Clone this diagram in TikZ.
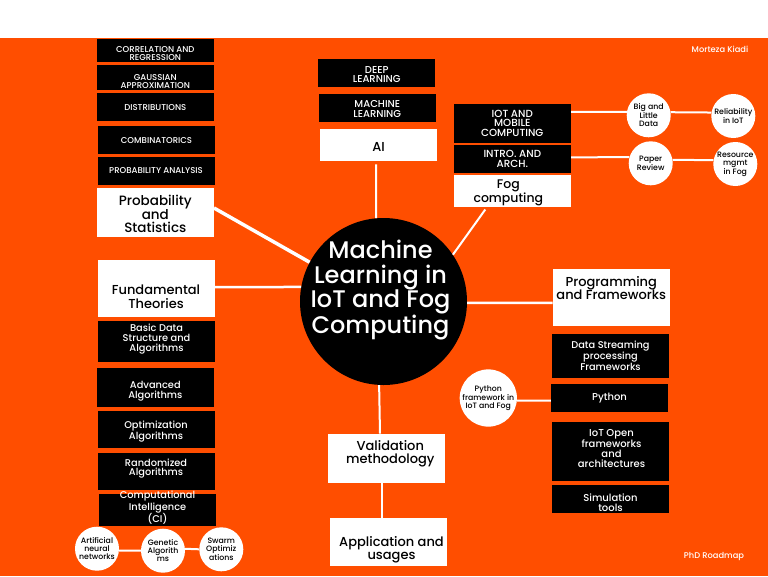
\documentclass[tikz,border=0pt]{standalone}
\usepackage{fontspec}
\setmainfont{Poppins Medium}[BoldFont={Poppins SemiBold}]
\definecolor{roadmap}{HTML}{FF4E00}
\newcommand{\fs}[2]{\fontsize{#1}{#2}\selectfont}
\tikzset{
  boxtext/.style={text=black,align=center,inner sep=0pt},
  darktext/.style={text=white,align=center,inner sep=0pt},
  darkbox/.style={fill=black,inner sep=0pt,minimum width=117,minimum height=28},
  lightbox/.style={fill=white,inner sep=0pt,minimum width=117,minimum height=32},
  bubble/.style={circle,fill=white,text=black,align=center,inner sep=0pt,minimum size=44,font=\fs{7.8}{8}},
  link/.style={draw=white,line width=2pt},
}
\begin{document}
\begin{tikzpicture}[x=1pt,y=-1pt]
            \useasboundingbox (0,0) rectangle (768,576);
            \fill[roadmap] (0,38) rectangle (768,576);

            % centre
            \node[circle,fill=black,inner sep=0pt,minimum size=167,label={[darktext,font=\fs{24}{24.7},xshift=-3,yshift=11.2]center:{Machine\\Learning in\\IoT and Fog\\Computing}}] (hub) at (383.5,301.5) {};

            % probability and statistics
            \node[darkbox,minimum height=23,label={[darktext,font=\fs{8.5}{8},yshift=-3.5]center:{CORRELATION AND\\REGRESSION}}] (corr) at (155.3,50.5) {};
            \node[darkbox,minimum height=25,label={[darktext,font=\fs{8.5}{8},yshift=-3.8]center:{GAUSSIAN\\APPROXIMATION}}] (gauss) at (155.3,77.7) {};
            \node[darkbox,label={[darktext,font=\fs{8.5}{8},yshift=-0.8]center:{DISTRIBUTIONS}}] (dist) at (155.3,107) {};
            \node[darkbox,label={[darktext,font=\fs{8.5}{8},yshift=-0.8]center:{COMBINATORICS}}] (comb) at (156.5,140) {};
            \node[darkbox,label={[darktext,font=\fs{8.5}{8}]center:{PROBABILITY ANALYSIS}}] (panalysis) at (156,170.8) {};
            \node[lightbox,minimum height=49,label={[boxtext,font=\fs{13.5}{13.7},yshift=-1.5]center:{Probability\\and\\Statistics}}] (prob) at (155.3,212.5) {};

            % fundamental theories
            \node[lightbox,minimum height=57,label={[boxtext,font=\fs{13}{14},yshift=-8.7]center:{Fundamental\\Theories}}] (fund) at (156,288.3) {};
            \node[darkbox,minimum height=41,label={[darktext,font=\fs{9.8}{10},yshift=2]center:{Basic Data\\Structure and\\Algorithms}}] (basic) at (156.5,341.5) {};
            \node[darkbox,minimum height=39,label={[darktext,font=\fs{9.8}{9.5},yshift=-3.5]center:{Advanced\\Algorithms}}] (advanced) at (155.3,387.5) {};
            \node[darkbox,minimum height=37,label={[darktext,font=\fs{9.8}{9.6},yshift=-2]center:{Optimization\\Algorithms}}] (optim) at (156,429.5) {};
            \node[darkbox,minimum height=37,label={[darktext,font=\fs{9.8}{9.2},yshift=3.5]center:{Randomized\\Algorithms}}] (random) at (156,471.7) {};
            \node[darkbox,minimum height=32,label={[darktext,font=\fs{9.8}{10},yshift=2]center:{Computational\\Intelligence\\(CI)}}] (ci) at (157.5,510) {};
            \node[bubble] (ann) at (97,548.7) {Artificial\\neural\\networks};
            \node[bubble] (genetic) at (163,550.7) {Genetic\\Algorith\\ms};
            \node[bubble] (swarm) at (221.3,549.3) {Swarm\\Optimiz\\ations};

            % ai
            \node[darkbox,label={[darktext,font=\fs{10}{8.5},yshift=-1.5]center:{DEEP\\LEARNING}}] (deep) at (376.7,72.8) {};
            \node[darkbox,label={[darktext,font=\fs{10}{10},yshift=-1]center:{MACHINE\\LEARNING}}] (ml) at (377.3,107.8) {};
            \node[lightbox,label={[boxtext,font=\fs{13}{13},yshift=-2]center:{AI}}] (ai) at (378.5,144.8) {};

            % fog computing
            \node[darkbox,minimum height=39,label={[darktext,font=\fs{10.3}{9.8}]center:{IOT AND\\MOBILE\\COMPUTING}}] (iotmobile) at (512.3,123.3) {};
            \node[darkbox,label={[darktext,font=\fs{10.3}{10}]center:{INTRO. AND\\ARCH.}}] (intro) at (512.3,159.3) {};
            \node[lightbox,label={[boxtext,font=\fs{12.5}{13.7},xshift=-4,yshift=-2]center:{Fog\\computing}}] (fog) at (512.3,190.8) {};
            \node[bubble] (bigdata) at (648.7,115.3) {Big and\\Little\\Data};
            \node[bubble] (reliability) at (733.3,116) {Reliability\\in IoT};
            \node[bubble] (paper) at (650.7,163.3) {Paper\\Review};
            \node[bubble] (resource) at (735.3,164) {Resource\\mgmt\\in Fog};

            % programming
            \node[lightbox,minimum height=57,label={[boxtext,font=\fs{13}{13.4},yshift=9]center:{Programming\\and Frameworks}}] (prog) at (611.3,297.3) {};
            \node[darkbox,minimum height=44,label={[darktext,font=\fs{9.8}{9.5}]center:{Data Streaming\\processing\\Frameworks}}] (streaming) at (610.5,355.8) {};
            \node[darkbox,label={[darktext,font=\fs{10}{10}]center:{Python}}] (python) at (609.5,398) {};
            \node[darkbox,minimum height=59,label={[darktext,font=\fs{10}{9.7},xshift=1,yshift=2.5]center:{IoT Open\\frameworks\\and\\architectures}}] (iotopen) at (610.5,451) {};
            \node[darkbox,label={[darktext,font=\fs{10}{10},yshift=-3.9]center:{Simulation\\tools}}] (sim) at (610.5,498.8) {};
            \node[bubble,minimum size=56] (pyfog) at (488.3,398) {Python\\framework in\\IoT and Fog};

            % validation and usage
            \node[lightbox,minimum height=49,label={[boxtext,font=\fs{13}{12.7},xshift=4,yshift=4.3]center:{Validation\\methodology}}] (val) at (386.3,458.3) {};
            \node[lightbox,minimum height=48,label={[boxtext,font=\fs{13}{12.7},xshift=3,yshift=-8]center:{Application and\\usages}}] (app) at (388.5,541.8) {};

            % corner notes
            \node[text=white,font=\fs{8.3}{8},inner sep=0pt] (author) at (720,49.3) {Morteza Kiadi};
            \node[text=white,font=\fs{8.3}{8},inner sep=0pt] (note) at (714,556.3) {PhD Roadmap};

            % connectors
            \draw[link,line width=3.5pt] ([yshift=4.5]prob.east) -- (hub.152);
            \draw[link,line width=2.5pt] ([yshift=1.2]fund.east) -- (hub.170);
            \draw[link] ([xshift=-2.5,yshift=-3.3]ai.south) -- (hub.95);
            \draw[link] ([xshift=-27,yshift=-2.5]fog.south) -- (hub.34);
            \draw[link,line width=2.5pt] (hub.-1) -- ([yshift=-5.5]prog.west);
            \draw[link] (hub.267.5) -- ([xshift=-6.3]val.north);
            \draw[link] ([xshift=-4.6]val.south) -- ([xshift=-6.8]app.north);
            \draw[link] ([yshift=11.4]iotmobile.east) -- (bigdata.171);
            \draw[link] (bigdata.8) -- (reliability.171);
            \draw[link] ([yshift=2]intro.east) -- (paper.164);
            \draw[link] (paper.9) -- (resource.170);
            \draw[link] (pyfog.-5) -- ([yshift=-2.7]python.west);
            \draw[link] (ann.-5) -- (genetic.west);
            \draw[link] (genetic.5) -- (swarm.west);
        \end{tikzpicture}
\end{document}
